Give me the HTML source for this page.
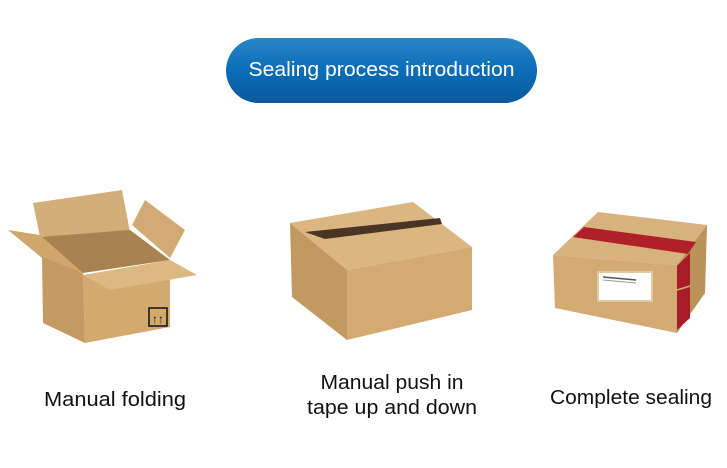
<!DOCTYPE html>
<html><head><meta charset="utf-8"><style>
html,body{margin:0;padding:0;background:#fff;}
svg{display:block;}
text{font-family:"Liberation Sans",sans-serif;}
</style></head><body>
<svg width="727" height="468" viewBox="0 0 727 468" xmlns="http://www.w3.org/2000/svg">
<defs>
<linearGradient id="pill" x1="0" y1="0" x2="0" y2="1">
<stop offset="0" stop-color="#2a86c8"/><stop offset="0.5" stop-color="#0b6db6"/><stop offset="1" stop-color="#075a9c"/>
</linearGradient>
</defs>
<rect x="226" y="38" width="311" height="65" rx="32.5" fill="url(#pill)"/>
<text x="381.5" y="76" font-size="20" fill="#fff" text-anchor="middle" textLength="266" lengthAdjust="spacingAndGlyphs">Sealing process introduction</text>

<!-- Box 1 -->
<polygon points="33,203 122,190 130,232 40,237" fill="#d4ae78"/>
<polygon points="132,225 145,200 185,230 170,258" fill="#d2ab74"/>
<polygon points="40,237 130,230 170,260 83,273" fill="#a8834f"/>
<polygon points="8,230 40,235 83,273 42,258" fill="#cfa66c"/>
<polygon points="42,257 83,273 85,343 43,323" fill="#c39a62"/>
<polygon points="83,275 170,262 170,327 85,343" fill="#d2aa70"/>
<polygon points="83,275 110,290 197,275 170,260" fill="#dcb883"/>
<rect x="149" y="308" width="18" height="18" fill="none" stroke="#111" stroke-width="1.5"/>
<text x="158" y="323" font-size="12" text-anchor="middle" fill="#111">↑↑</text>

<!-- Box 2 -->
<polygon points="290,223 413,202 472,247 347,270" fill="#dbb680"/>
<polygon points="305,232 440,218 442,224 325,239" fill="#4a3423"/>
<polygon points="347,270 472,247 472,310 347,340" fill="#d3ab72"/>
<polygon points="290,223 347,270 347,340 292,297" fill="#c29960"/>

<!-- Box 3 -->
<polygon points="553,255 598,212 707,225 677,265" fill="#d8b27c"/>
<polygon points="553,255 677,265 677,333 555,308" fill="#d2aa72"/>
<polygon points="677,265 707,225 705,293 677,333" fill="#bb925a"/>
<polygon points="573,237 584,227 696,242 688,254" fill="#b0202a"/>
<polygon points="677,266 690,253 690,318 677,330" fill="#a81c27"/>
<line x1="677" y1="290" x2="690" y2="286" stroke="#d2aa72" stroke-width="1.5"/>
<rect x="598" y="272" width="54" height="29" fill="#fff" stroke="#e2c9a4" stroke-width="2"/>
<line x1="603" y1="277" x2="636" y2="280" stroke="#555" stroke-width="1.5"/>
<line x1="603" y1="280" x2="636" y2="283" stroke="#999" stroke-width="1"/>

<text x="115" y="406" font-size="20" fill="#111" text-anchor="middle" textLength="142" lengthAdjust="spacingAndGlyphs">Manual folding</text>
<text x="392" y="389" font-size="20" fill="#111" text-anchor="middle" textLength="143" lengthAdjust="spacingAndGlyphs">Manual push in</text>
<text x="392" y="414" font-size="20" fill="#111" text-anchor="middle" textLength="170" lengthAdjust="spacingAndGlyphs">tape up and down</text>
<text x="631" y="404" font-size="20" fill="#111" text-anchor="middle" textLength="162" lengthAdjust="spacingAndGlyphs">Complete sealing</text>
</svg>
</body></html>
